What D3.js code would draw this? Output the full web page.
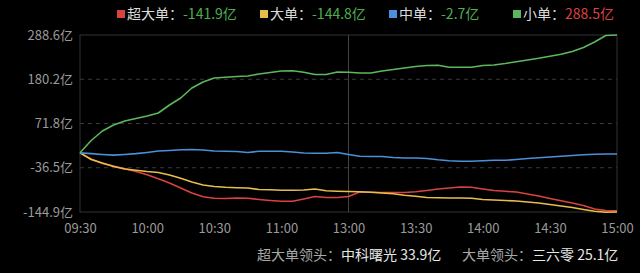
<!DOCTYPE html>
<html>
<head>
<meta charset="utf-8">
<script src="https://cdn.jsdelivr.net/npm/d3@7"></script>
<style>
  body { margin: 0; background: #000; }
  svg { display: block; font-family: "Noto Sans CJK SC", "Noto Sans", sans-serif; }
</style>
</head>
<body>
<svg id="chart"></svg>
<script>
// minute index within the trading day (0 = 09:30, 120 = 11:30/13:00, 240 = 15:00)
const minutes = d3.range(0, 241, 5);

// 超大单, 大单, 中单, 小单 cumulative net inflow (亿)
const superLarge = [0, -15.1, -26.1, -32.2, -39.1, -45.7, -53.8, -63.3, -73.9, -86.1, -98.3, -107.7, -111.3,
  -111.8, -110.6, -111.3, -114.3, -116.7, -118.7, -118.7, -113, -106.9, -109.4, -109.4, -106.9,
  -95.9, -96.6, -97.1, -97.1, -97.1, -95.4, -92.2, -88.5, -86.1, -83.6, -84.4, -88.5, -92.2,
  -94.2, -95.9, -100.8, -105.7, -111.8, -117.4, -122.8, -129, -137.5, -141.5, -141.9];
const large = [0, -16.3, -24.9, -33.4, -39.6, -42.5, -45.7, -48.1, -54.3, -62.3, -71.4, -78.7, -82.4,
  -84.4, -85.4, -86.1, -89.8, -90.5, -91.5, -91.7, -91, -88.5, -92.7, -93.9, -94.7,
  -95.4, -96.6, -98.3, -100.3, -103.9, -106.4, -109.4, -110.1, -110.6, -110.6, -111.3, -114.3, -115.5,
  -116.7, -118, -120.4, -122.8, -126.5, -130.2, -133.9, -138.8, -143.2, -145.6, -144.8];
const medium = [0, -2, -4, -5.5, -4, -2, 1, 4.5, 5.8, 7.7, 8.2, 7, 4.5,
  4, 3.3, 0.9, 3.8, 3.8, 3.8, 2.1, -0.4, -1, -1, 0.9, -4,
  -8.5, -9, -9, -11.4, -12.6, -12.6, -13.9, -17.1, -19.5, -20.7, -20.7, -19.5, -18.3,
  -18.3, -16.3, -13.9, -12.1, -10.2, -8.5, -6.5, -4.6, -3.5, -3, -2.7];
const small = [0, 30.2, 53.5, 68.2, 78, 84.1, 90.2, 97.6, 117.2, 134.3, 158.8, 173.5, 183.3,
  185, 186.9, 188.2, 193.1, 196.8, 200.4, 201.2, 197.3, 191.9, 191.9, 198, 197.3,
  195.5, 195.5, 200.4, 204.1, 207.8, 211.5, 213.9, 214.4, 209.5, 209.5, 209.5, 213.9, 215.1,
  218.8, 223.2, 227.4, 231.5, 236.4, 241.3, 248.2, 258, 271.5, 287.4, 288.5];

const seriesNames = ['超大单', '大单', '中单', '小单'];
const seriesTotals = ['-141.9亿', '-144.8亿', '-2.7亿', '288.5亿'];
const seriesColors = ['#d9433f', '#e8bd4c', '#4a90db', '#5cb85c'];

const yTicks = [288.6, 180.2, 71.8, -36.5, -144.9];
const xTickMinutes = [0, 30, 60, 90, 120, 150, 180, 210, 240];
const xTickLabels = ['09:30', '10:00', '10:30', '11:00', '13:00', '13:30', '14:00', '14:30', '15:00'];

const leaders = [
  { label: '超大单领头：', value: '中科曙光 33.9亿' },
  { label: '大单领头：', value: '三六零 25.1亿' },
];

const width = 640, height = 273;
const margin = { top: 35, right: 23, bottom: 61, left: 80 };

const svg = d3.select('#chart').attr('width', width).attr('height', height);
svg.append('rect').attr('width', width).attr('height', height).attr('fill', '#000');

const x = d3.scaleLinear().domain([0, 240]).range([margin.left, width - margin.right]);
const y = d3.scaleLinear().domain([-144.9, 288.6]).range([height - margin.bottom, margin.top]);

// dashed grid lines
svg.append('g')
  .selectAll('line')
  .data(yTicks.slice(1, -1))
  .enter()
  .append('line')
  .attr('x1', x(0))
  .attr('x2', x(240))
  .attr('y1', (d) => y(d))
  .attr('y2', (d) => y(d))
  .attr('stroke', '#3a3a3a')
  .attr('stroke-dasharray', '4,4');

// plot frame and the lunch-break divider
svg.append('rect')
  .attr('x', x(0))
  .attr('y', y(288.6))
  .attr('width', x(240) - x(0))
  .attr('height', y(-144.9) - y(288.6))
  .attr('fill', 'none')
  .attr('stroke', '#333');

svg.append('line')
  .attr('x1', x(120))
  .attr('x2', x(120))
  .attr('y1', y(288.6))
  .attr('y2', y(-144.9))
  .attr('stroke', '#444');

// y axis labels
const yAxis = svg.append('g')
  .attr('transform', `translate(${margin.left - 7},0)`)
  .call(d3.axisLeft(y).tickValues(yTicks).tickSize(0).tickFormat((d) => d.toFixed(1) + '亿'));
yAxis.select('.domain').remove();
yAxis.selectAll('text')
  .attr('x', 0)
  .attr('fill', '#9a9a9a')
  .style('font-size', '13px')
  .style('font-family', '"Noto Sans CJK SC", sans-serif');

// x axis labels
const xAxis = svg.append('g')
  .attr('transform', `translate(0,${height - margin.bottom})`)
  .call(d3.axisBottom(x).tickValues(xTickMinutes).tickSize(0).tickFormat((d, i) => xTickLabels[i]));
xAxis.select('.domain').remove();
xAxis.selectAll('text')
  .attr('y', 12)
  .attr('fill', '#9a9a9a')
  .style('font-size', '13px')
  .style('font-family', '"Noto Sans CJK SC", sans-serif');

// lines
const line = d3.line()
  .x((d) => x(d[0]))
  .y((d) => y(d[1]));

const allSeries = [superLarge, large, medium, small];
svg.append('g')
  .selectAll('path')
  .data(allSeries)
  .enter()
  .append('path')
  .attr('d', (vals) => line(vals.map((v, i) => [minutes[i], v])))
  .attr('fill', 'none')
  .attr('stroke', (d, i) => seriesColors[i])
  .attr('stroke-width', 1.6)
  .attr('stroke-linejoin', 'round');

// legend
const legendX = [117, 260, 389, 513];
const legend = svg.append('g')
  .selectAll('g.item')
  .data(seriesNames)
  .enter()
  .append('g')
  .classed('item', true)
  .attr('transform', (d, i) => `translate(${legendX[i]}, 14)`);

legend.append('rect')
  .attr('x', 0)
  .attr('y', -4)
  .attr('width', 8)
  .attr('height', 8)
  .attr('fill', (d, i) => seriesColors[i]);

const legendText = legend.append('text')
  .attr('x', 10)
  .attr('y', 5)
  .style('font-size', '14px');
legendText.append('tspan')
  .attr('fill', '#dcdcdc')
  .text((d) => d + '：');
legendText.append('tspan')
  .attr('fill', (d, i) => (seriesTotals[i].startsWith('-') ? '#4fae4f' : '#d9433f'))
  .text((d, i) => seriesTotals[i]);

// leaders line at the bottom
const leaderX = [257, 462];
const leaderText = svg.append('g')
  .selectAll('text')
  .data(leaders)
  .enter()
  .append('text')
  .attr('x', (d, i) => leaderX[i])
  .attr('y', 260)
  .style('font-size', '14px');
leaderText.append('tspan').attr('fill', '#a8a8a8').text((d) => d.label);
leaderText.append('tspan').attr('fill', '#e6e6e6').text((d) => d.value);
</script>
</body>
</html>
